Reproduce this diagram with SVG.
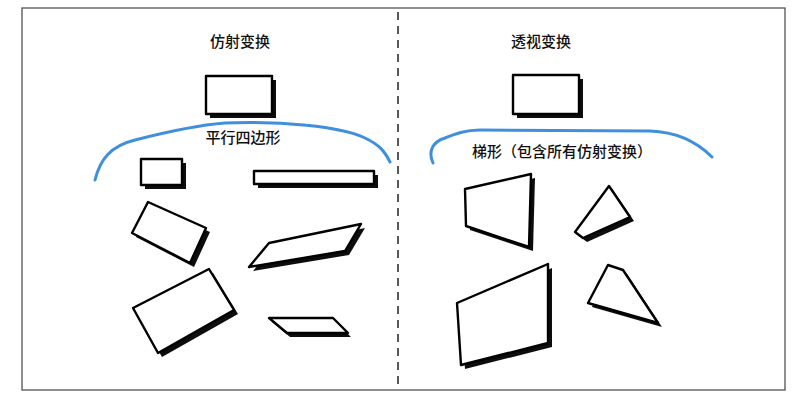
<svg xmlns="http://www.w3.org/2000/svg" width="804" height="402" viewBox="0 0 804 402">
<style>
.s{fill:#111;filter:url(#b)}
.p{fill:#fff;stroke:#000;stroke-width:2.4;stroke-linejoin:round}
.arc{fill:none;stroke:#3f8fdc;stroke-width:3;stroke-linecap:round}
text{font-family:"Noto Sans CJK SC","Noto Sans",sans-serif;font-size:15px;font-weight:500;fill:#111;text-anchor:middle}
</style>
<defs><filter id="b"><feGaussianBlur stdDeviation="0.6"/></filter></defs>
<rect x="0" y="0" width="804" height="402" fill="#fff"/>
<rect x="22" y="8" width="763" height="382" fill="none" stroke="#444" stroke-width="1.2"/>
<g id="divider"><line x1="398" y1="12" x2="398" y2="388" stroke="#222" stroke-width="1.5" stroke-dasharray="8,6"/></g>
<g id="titles"><text x="240" y="47">仿射变换</text><text x="541" y="47">透视变换</text></g>
<g id="connectors">
<path class="arc" d="M95,180 C100,160 110,146 135,140 C170,131 200,125 225,123 C280,121 340,126 365,138 C380,145 385,152 390,162"/>
<path class="arc" d="M433,163 C428,152 432,142 445,138 C455,134 465,130 480,130 L650,131 C680,132 700,145 712,157"/>
</g>
<g id="labels"><text x="243" y="143">平行四边形</text><text x="562" y="157">梯形（包含所有仿射变换）</text></g>
<g id="left-shapes">
<g id="a0"><polygon class="s" points="210,80 276,80 276,118 210,118"/><polygon class="p" points="206,76 272,76 272,114 206,114"/></g>
<g id="a1"><polygon class="s" points="145,163 186,163 186,189 145,189"/><polygon class="p" points="141,159 182,159 182,185 141,185"/></g>
<g id="a2"><polygon class="s" points="258,175 378,175 378,188 258,188"/><polygon class="p" points="254,171 374,171 374,184 254,184"/></g>
<g id="a3"><polygon class="s" points="152,206 210,232 194,267 136,237"/><polygon class="p" points="148,202 206,228 190,263 132,233"/></g>
<g id="a4"><polygon class="s" points="273,247 365,228 349,255 253,271"/><polygon class="p" points="269,243 361,224 345,251 249,267"/></g>
<g id="a5"><polygon class="s" points="137,312 213,273 238,314 162,357"/><polygon class="p" points="133,308 209,269 234,310 158,353"/></g>
<g id="a6"><polygon class="s" points="272,322 336,322 351,337 290,337"/><polygon class="p" points="269,318 333,318 348,333 287,333"/></g>
</g>
<g id="right-shapes">
<g id="b0"><polygon class="s" points="517,79 583,79 583,118 517,118"/><polygon class="p" points="513,75 579,75 579,114 513,114"/></g>
<g id="b1"><polygon class="s" points="469,193 535,178 533,251 470,230"/><polygon class="p" points="465,189 531,174 529,247 466,226"/></g>
<g id="b2"><polygon class="s" points="613,190 634,221 587,242 579,236"/><polygon class="p" points="609,186 630,217 583,238 575,232"/></g>
<g id="b3"><polygon class="s" points="461,307 552,268 552,347 465,369"/><polygon class="p" points="457,303 548,264 548,343 461,365"/></g>
<g id="b4"><polygon class="s" points="612,269 627,274 662,327 592,307"/><polygon class="p" points="608,265 623,270 658,323 588,303"/></g>
</g>
</svg>
